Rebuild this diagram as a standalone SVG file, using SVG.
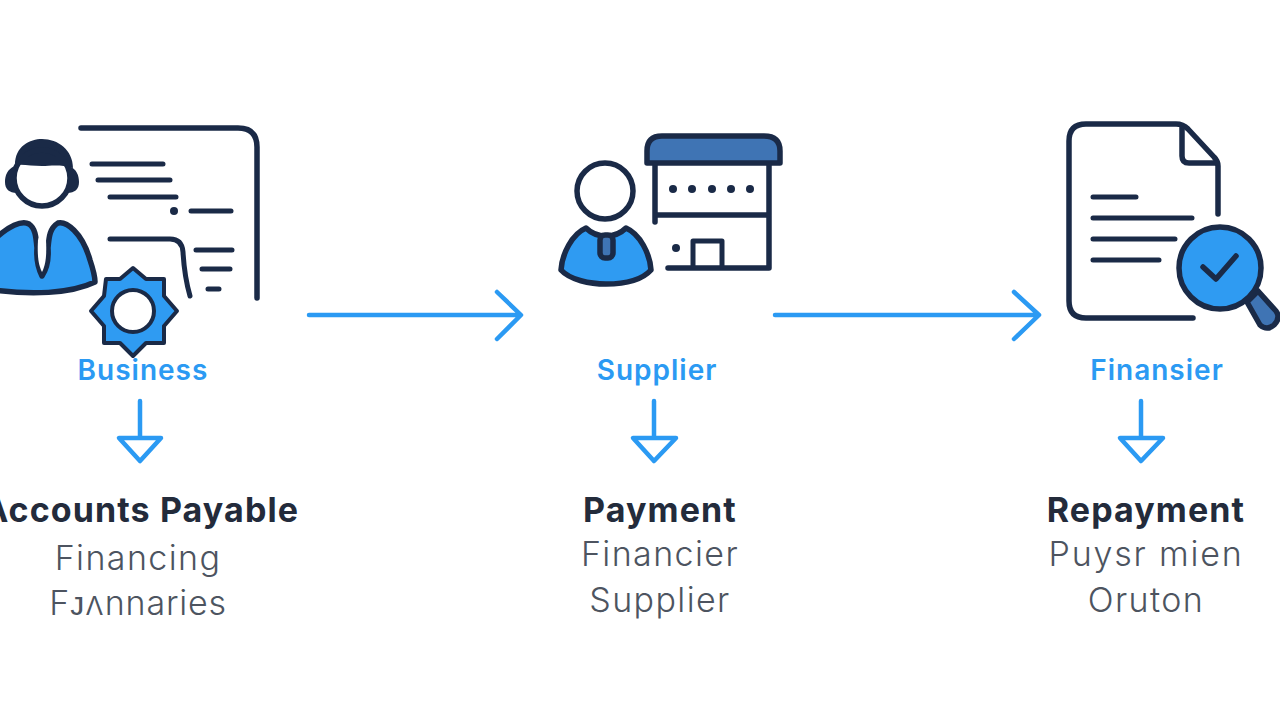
<svg xmlns="http://www.w3.org/2000/svg" width="1280" height="720" viewBox="0 0 1280 720">
<style>
.ink{fill:none;stroke:#1a2a47;stroke-width:5.5;stroke-linecap:round;stroke-linejoin:round}
.thin{fill:none;stroke:#1a2a47;stroke-width:5;stroke-linecap:round;stroke-linejoin:round}
.blue{fill:#2f9bf2;stroke:#1a2a47;stroke-width:5.5;stroke-linejoin:round}
.dot{fill:#1a2a47}
.arrow{fill:none;stroke:#2b9af3;stroke-width:4.5;stroke-linecap:round;stroke-linejoin:round}
text{text-anchor:middle;font-family:"Inter","Liberation Sans",sans-serif}
.role{font-size:28px;font-weight:600;fill:#2b9af3;letter-spacing:1px}
.head{font-size:34px;font-weight:700;fill:#232b3b;letter-spacing:1.1px}
.sub{font-size:34px;font-weight:300;fill:#4d5460;letter-spacing:1.4px}
</style>
<rect width="1280" height="720" fill="#ffffff"/>
<g id="connectors">
<path class="arrow" d="M309 315H520M497 292L521 315L497 339"/>
<path class="arrow" d="M775 315H1037M1014 292L1039 315L1014 339"/>
<path class="arrow" d="M140 401V437M119 438H161L140 461Z"/>
<path class="arrow" d="M654 401V438M633 438H676L654 461Z"/>
<path class="arrow" d="M1141 401V438M1120 438H1163L1141 461Z"/>
</g>
<g id="business">
<path class="ink" d="M81 128H238Q257 128 257 147V298"/>
<path class="dot" d="M15 165C15 146 30 139 42 139C58 139 73 150 73 168C60 164 50 166 42 166C32 166 24 164 15 165Z"/>
<circle cx="42" cy="178" r="28" class="ink"/>
<path class="dot" d="M15 166C7 169 5 176 5 182C5 189 9 193 17 193ZM69 166C77 169 79 176 79 182C79 189 75 193 67 193Z"/>
<path class="blue" d="M-6 240C8 226 22 220 29 224C35 228 36 236 37 248C36 262 39 270 42 276C46 270 49 262 48 248C49 236 50 228 58 223C66 221 82 232 90 260C94 272 95 280 95 282C70 294 30 295 -6 290Z"/>
<path d="M38 240C37 258 39 266 42 272C45 266 47 258 46 240C45 234 39 234 38 240Z" fill="#ffffff" stroke="none"/>
<path class="thin" d="M92 164H163M98 180H170M110 197H176"/>
<circle cx="174" cy="211" r="4" class="dot"/>
<path class="thin" d="M191 211H231"/>
<path class="thin" d="M110 239H170Q182 239 183 252C184 270 186 282 190 296"/>
<path class="thin" d="M196 250H232M202 269H230M208 289H219"/>
<path class="blue" style="stroke-width:4" d="M133 268L146 279L164 279L164 296L177 311L164 326L164 343L146 343L133 356L120 343L104 343L104 326L91 311L104 296L106 279L120 279Z"/>
<circle cx="133" cy="311" r="21" fill="#ffffff" stroke="#1a2a47" stroke-width="4"/>
<text class="role" x="143" y="380">Business</text>
<text class="head" x="141" y="522">Accounts Payable</text>
<text class="sub" x="138" y="570">Financing</text>
<text class="sub" x="138" y="615" style="letter-spacing:.8px">Fᴊʌnnaries</text>
</g>
<g id="supplier">
<path d="M647 163V151Q647 136 662 136H764Q780 136 780 151V163Z" fill="#3f74b4" stroke="#1a2a47" stroke-width="5.5" stroke-linejoin="round"/>
<path class="ink" d="M655 165V222M769 165V268M655 215H769M668 268H769"/>
<path class="thin" d="M693 266V241H722V266"/>
<g class="dot"><circle cx="673" cy="189" r="4"/><circle cx="692" cy="189" r="4"/><circle cx="712" cy="189" r="4"/><circle cx="731" cy="189" r="4"/><circle cx="750" cy="189" r="4"/><circle cx="676" cy="248" r="4"/></g>
<circle cx="605" cy="191" r="28" class="ink"/>
<path class="blue" d="M586 228C572 234 562 254 561 270C570 280 590 284 606 284C624 284 642 280 651 270C650 254 640 234 626 228C620 234 612 236 606 236C600 236 592 234 586 228Z"/>
<rect x="600" y="235" width="13" height="23" rx="5" fill="#3f74b4" stroke="#1a2a47" stroke-width="5.5"/>
<text class="role" x="657" y="380">Supplier</text>
<text class="head" x="660" y="522">Payment</text>
<text class="sub" x="660" y="566">Financier</text>
<text class="sub" x="660" y="612">Supplier</text>
</g>
<g id="financier">
<path class="ink" d="M1193 318H1086Q1069 318 1069 301V141Q1069 124 1086 124H1176Q1183 124 1188 129L1214 157Q1218 161 1218 166V214"/>
<path class="ink" d="M1182 128V156Q1182 163 1189 163H1217"/>
<path class="thin" d="M1093 197H1136M1093 218H1192M1093 239H1175M1093 260H1159"/>
<path d="M1247 302L1258 291L1276 311Q1281 318 1274 325Q1267 331 1260 325Z" fill="#3f74b4" stroke="#1a2a47" stroke-width="5.5" stroke-linejoin="round"/>
<circle cx="1220" cy="268" r="41" class="blue"/>
<path class="ink" d="M1203 267L1216 279L1236 256"/>
<text class="role" x="1157" y="380">Finansier</text>
<text class="head" x="1146" y="522">Repayment</text>
<text class="sub" x="1146" y="566" style="letter-spacing:1.8px">Puysr mien</text>
<text class="sub" x="1146" y="612">Oruton</text>
</g>
</svg>
